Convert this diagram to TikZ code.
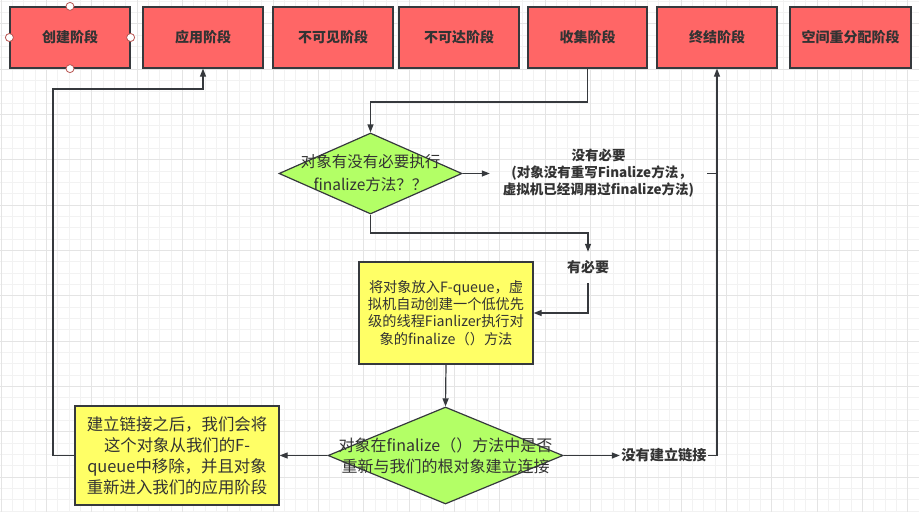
\documentclass[tikz,border=0pt]{standalone}
\usepackage{fontspec}
\setmainfont{Noto Sans CJK SC}
\usetikzlibrary{shapes.geometric,arrows.meta,calc}
\definecolor{redfill}{HTML}{FF6666}
\definecolor{edgec}{HTML}{36393D}
\definecolor{yellowfill}{HTML}{FFFF66}
\definecolor{greenfill}{HTML}{B3FF66}
\definecolor{txt}{HTML}{333333}
\definecolor{gminor}{HTML}{F2F2F2}
\definecolor{gmajor}{HTML}{E4E4E4}
\definecolor{handlec}{HTML}{B85450}
\begin{document}
\begin{tikzpicture}[x=1pt,y=-1pt,
  stage/.style={draw=edgec, line width=1.2pt, fill=redfill, minimum width=120pt, minimum height=61pt, inner sep=0pt, text=txt, font=\fontsize{14}{17}\selectfont\bfseries},
  notebox/.style={draw=edgec, line width=1.2pt, fill=yellowfill, inner sep=0pt, text=txt, align=center},
  decision/.style={diamond, draw=edgec, line width=1.2pt, fill=greenfill, inner sep=0pt},
  dtext/.style={inner sep=0pt, text=txt, align=center},
  elabel/.style={inner sep=0pt, text=txt, align=center, font=\fontsize{13.5}{17}\selectfont\bfseries},
  conn/.style={draw=edgec, line width=1.2pt},
  arr/.style={conn, -{Triangle[length=8pt,width=6pt]}},
  handle/.style={circle, draw=handlec, fill=white, line width=0.8pt, minimum size=8pt, inner sep=0pt},
  gridminor/.style={draw=gminor, line width=0.9pt},
  gridmajor/.style={draw=gmajor, line width=1pt}
]
\useasboundingbox (0,0) rectangle (919,512);
\fill[white] (0,0) rectangle (919,512);
% grid
\foreach \k in {0,...,81} \draw[gridminor] ({1.1+11.333*\k},0) -- ({1.1+11.333*\k},512);
\foreach \k in {0,...,45} \draw[gridminor] (0,{1.0+11.333*\k}) -- (919,{1.0+11.333*\k});
\foreach \k in {0,...,20} \draw[gridmajor] ({1.1+45.333*\k},0) -- ({1.1+45.333*\k},512);
\foreach \k in {0,...,10} \draw[gridmajor] (0,{23.7+45.333*\k}) -- (919,{23.7+45.333*\k});

% top stages
\node[stage] (b1) at (70,37.5) {创建阶段};
\node[stage] (b2) at (203,37.5) {应用阶段};
\node[stage] (b3) at (333,37.5) {不可见阶段};
\node[stage] (b4) at (459,37.5) {不可达阶段};
\node[stage, minimum width=119pt] (b5) at (587.5,37.5) {收集阶段};
\node[stage] (b6) at (717,37.5) {终结阶段};
\node[stage, minimum width=121pt] (b7) at (850.5,37.5) {空间重分配阶段};

% selection handles on first stage
\node[handle] (h1) at (b1.north) {};
\node[handle] (h2) at (b1.south) {};
\node[handle] (h3) at (b1.west) {};
\node[handle] (h4) at (b1.east) {};

% decision 1
\node[decision, minimum width=183pt, minimum height=81pt] (d1) at (370.5,173.5) {};
\node[dtext, font=\fontsize{15.5}{23}\selectfont] (d1t) at (d1.center) {对象有没有必要执行\\finalize方法？？};

% label no need
\node[elabel, minimum width=217pt, minimum height=52pt] (l1) at (598.5,173.5) {没有必要\\\ \ (对象没有重写Finalize方法，\\虚拟机已经调用过finalize方法)};

% label need
\node[elabel, font=\fontsize{14}{17}\selectfont\bfseries, minimum width=40pt, minimum height=31pt] (l2) at (588,267.5) {有必要};

% yellow box 1
\node[notebox, minimum width=174pt, minimum height=102pt, font=\fontsize{14.2}{17.3}\selectfont] (y1) at (446,313) {将对象放入F-queue，虚\\拟机自动创建一个低优先\\级的线程Fianlizer执行对\\象的finalize（）方法};

% decision 2
\node[decision, minimum width=235pt, minimum height=97pt] (d2) at (445.5,455.5) {};
\node[dtext, font=\fontsize{16}{20.7}\selectfont] (d2t) at (d2.center) {对象在finalize（）方法中是否\\重新与我们的根对象建立连接};

% label no link
\node[elabel, font=\fontsize{14.2}{17}\selectfont\bfseries, minimum width=88pt, minimum height=18pt] (l3) at (664,455.5) {没有建立链接};

% left yellow box
\node[notebox, minimum width=204pt, minimum height=99pt, font=\fontsize{16.4}{21}\selectfont] (ly) at (177,455.5) {建立链接之后，我们会将\\这个对象从我们的F-\\queue中移除，并且对象\\重新进入我们的应用阶段};

% connectors
\coordinate (k1) at (370.5,102);
\draw[arr] (b5.south) |- (k1) -- (d1.north);
\draw[arr] (d1.east) -- (l1.west);
\draw[conn] (l1.east) -- (l1.east -| b6.south);
\coordinate (k2) at (370.5,233);
\draw[arr] (d1.south) -- (k2) -| (l2.north);
\draw[arr] (l2.south) |- (y1.east);
\draw[arr] (y1.south) -- (d2.north);
\draw[arr] (d2.west) -- (ly.east);
\coordinate (k3) at (53,89);
\draw[arr] (ly.west) -| (k3) -| (b2.south);
\draw[arr] (d2.east) -- (l3.west);
\draw[arr] (l3.east) -| (b6.south);
\end{tikzpicture}
\end{document}
